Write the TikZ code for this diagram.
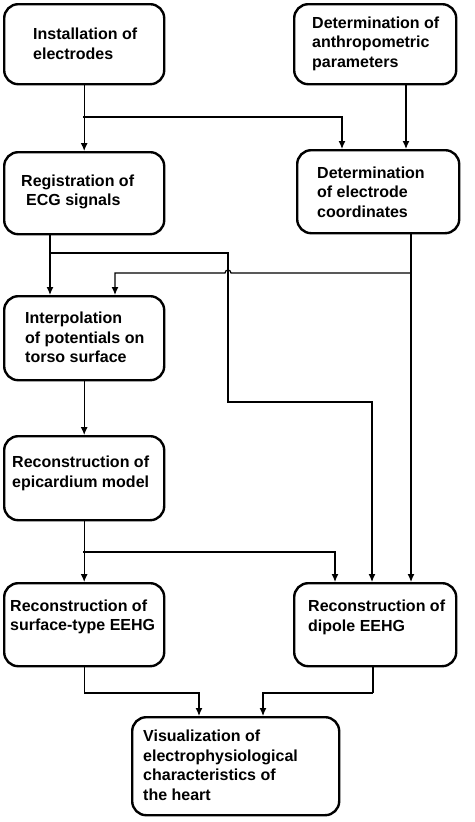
\documentclass[tikz,border=0pt]{standalone}
\usepackage{fontspec}
\setmainfont{Liberation Sans}
\usetikzlibrary{arrows.meta,calc}
\begin{document}
\begin{tikzpicture}[x=1pt,y=-1pt,
  box/.style={draw, line width=2.4pt, rounded corners=14pt, inner sep=0pt, anchor=north west},
  txt/.style={anchor=west, align=left, inner sep=0pt, font=\fontsize{16}{19.5}\selectfont\bfseries},
  conn/.style={line width=1.2pt, -{Latex[length=8pt,width=7pt]}},
  line/.style={line width=1.2pt}]
\useasboundingbox (0,0) rectangle (474,822);
% boxes
\node[box, minimum width=160pt, minimum height=80pt] (b1) at (3,3) {};
\node[box, minimum width=162pt, minimum height=80pt] (b2) at (293,3) {};
\node[box, minimum width=160pt, minimum height=82pt] (b3) at (3,151) {};
\node[box, minimum width=162pt, minimum height=83pt] (b4) at (296,149) {};
\node[box, minimum width=160pt, minimum height=84pt] (b5) at (3,295) {};
\node[box, minimum width=160pt, minimum height=84pt] (b6) at (3,435) {};
\node[box, minimum width=160pt, minimum height=83pt] (b7) at (3,582) {};
\node[box, minimum width=162pt, minimum height=83pt] (b8) at (293,582) {};
\node[box, minimum width=207pt, minimum height=98pt] (b9) at (131,716) {};
% texts
\node[txt] (t1) at (33,44) {Installation of\\electrodes};
\node[txt] (t2) at (312,43.5) {Determination of\\anthropometric\\parameters};
\node[txt] (t3) at (21,192) {Registration of\\\hspace*{5pt}ECG signals};
\node[txt] (t4) at (317,192) {Determination\\of electrode\\coordinates};
\node[txt] (t5) at (25,337.5) {Interpolation\\of potentials on\\torso surface};
\node[txt] (t6) at (12,473.5) {Reconstruction of\\epicardium model};
\node[txt] (t7) at (10,617) {Reconstruction of\\surface-type EEHG};
\node[txt] (t8) at (308,617.5) {Reconstruction of\\dipole EEHG};
\node[txt] (t9) at (143,765.5) {Visualization of\\electrophysiological\\characteristics of\\the heart};
% coordinates
\coordinate (j1) at (83,117);
\coordinate (x342) at (342,0);
\coordinate (x406) at (406,0);
\coordinate (j3) at (50,253);
\coordinate (x115) at (115,0);
\coordinate (j4) at (411,273);
\coordinate (k3) at (228,402);
\coordinate (x372) at (372,0);
\coordinate (j6) at (83,552);
\coordinate (x335) at (335,0);
\coordinate (j7) at (83,693);
\coordinate (x199) at (199,0);
\coordinate (j8) at (373,693);
\coordinate (x263) at (263,0);
\coordinate (x50) at (50,0);
% connectors
\draw[conn] (b1.south) -- (b3.north);
\draw[conn] (j1) -| (b4.north -| x342);
\draw[conn] (b2.south -| x406) -- (b4.north -| x406);
\draw[conn] (b3.south -| x50) -- (b5.north -| x50);
\draw[conn] (j3) -| (k3) -| (b8.north -| x372);
\draw[conn] (b4.south -| j4) -- (b8.north -| j4);
\draw[conn] (j4) -- (231,273) arc[start angle=0, end angle=-180, radius=3] -- (115,273) -- (b5.north -| x115);
\draw[conn] (b5.south) -- (b6.north);
\draw[conn] (b6.south) -- (b7.north);
\draw[conn] (j6) -| (b8.north -| x335);
\draw[line] (b7.south) -- (b7.south |- j7);
\draw[conn] (b7.south |- j7) -| (b9.north -| x199);
\draw[line] (b8.south -| j8) -- (j8);
\draw[conn] (j8) -| (b9.north -| x263);
\end{tikzpicture}
\end{document}
